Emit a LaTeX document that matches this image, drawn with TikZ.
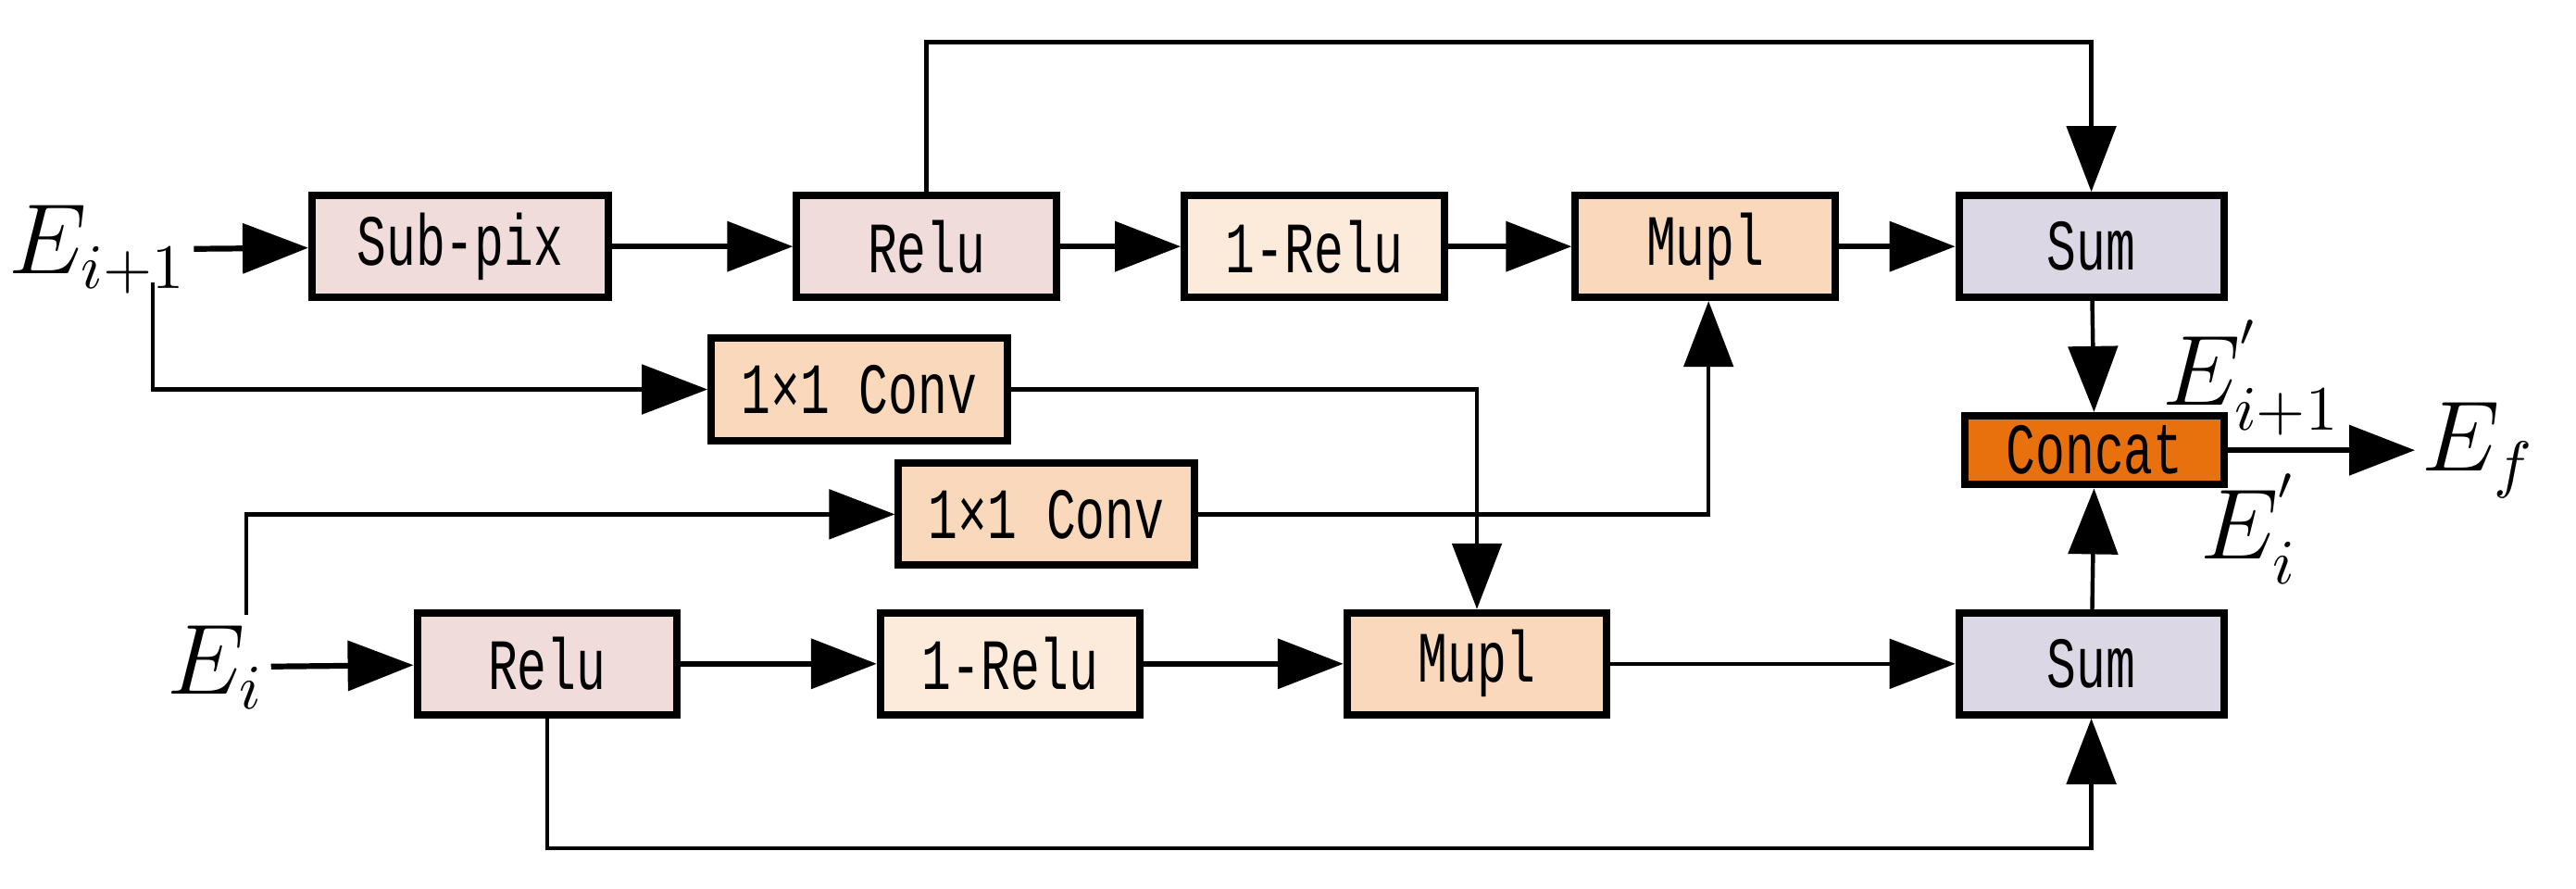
\documentclass[tikz,border=0pt]{standalone}
\usepackage{fontspec}
\setmainfont{Liberation Serif}
\newfontfamily\boxfont{Liberation Mono}
\usetikzlibrary{arrows.meta}
\definecolor{relupink}{RGB}{239,220,219}
\definecolor{lightpeach}{RGB}{252,234,219}
\definecolor{peach}{RGB}{249,216,187}
\definecolor{sumlav}{RGB}{220,215,229}
\definecolor{concatorange}{RGB}{232,113,14}
\newcommand{\boxtext}[1]{\scalebox{0.68}[1]{\boxfont\fontsize{12.5}{12.5}\selectfont #1}}

\begin{document}
\begin{tikzpicture}[x=0.01cm, y=-0.01cm]
		\tikzstyle{blk} = [rectangle, minimum width=1.58cm, minimum height=0.62cm, inner sep=0pt, draw=black, line width=0.45mm]
		\tikzstyle{arrow} = [-{Triangle[length=0.4cm,width=0.3cm]}, line width=0.35mm]
		\tikzstyle{branch} = [-{Triangle[length=0.4cm,width=0.3cm]}, line width=0.25mm]
		\tikzstyle{lbl} = [inner sep=1pt, font=\fontsize{16}{16}\selectfont]
		\useasboundingbox (0,0) rectangle (1568,541);
		%-------------------------------------------------------
		% upper path
		\node (ein1) [lbl, anchor=east] at (118,152) {$E_{i+1}$};
		\node (n1) [blk, fill=relupink, minimum width=1.8cm] at (280,150) {\boxtext{Sub-pix}};
		\node (n2) [blk, fill=relupink] at (564,150) {\boxtext{Relu}};
		\node (n3) [blk, fill=lightpeach] at (800,150) {\boxtext{1-Relu}};
		\node (n4) [blk, fill=peach] at (1038,150) {\boxtext{Mupl}};
		\node (n5) [blk, fill=sumlav, minimum width=1.61cm] at (1273,150) {\boxtext{Sum}};
		
		% convolutions
		\node (c1) [blk, fill=peach, minimum width=1.8cm] at (523,237) {\boxtext{1×1 Conv}};
		\node (c2) [blk, fill=peach, minimum width=1.8cm] at (637,313) {\boxtext{1×1 Conv}};
		
		% concat
		\node (cat) [blk, fill=concatorange, minimum width=1.58cm, minimum height=0.42cm] at (1275,274) {\boxtext{Concat}};
		\node (ef) [lbl, anchor=west] at (1470,274) {$E_f$};
		\node (l1) [lbl, anchor=west] at (1312,230) {$E^{'}_{i+1}$};
		\node (l2) [lbl, anchor=west] at (1335,322) {$E^{'}_{i}$};
		
		% lower path
		\node (ei) [lbl, anchor=east] at (165,406) {$E_i$};
		\node (m1) [blk, fill=relupink] at (333,404) {\boxtext{Relu}};
		\node (m2) [blk, fill=lightpeach] at (615,404) {\boxtext{1-Relu}};
		\node (m3) [blk, fill=peach] at (899,404) {\boxtext{Mupl}};
		\node (m4) [blk, fill=sumlav, minimum width=1.61cm] at (1273,404) {\boxtext{Sum}};
		
		\coordinate (b1) at (93,172);
		\coordinate (b2) at (150,374);
		
		\draw [arrow] (ein1) -- (n1);
		\draw [arrow] (n1) -- (n2);
		\draw [arrow] (n2) -- (n3);
		\draw [arrow] (n3) -- (n4);
		\draw [arrow] (n4) -- (n5);
		\draw [branch] (n2.north) -- ++(0,-91) -| (n5.north);
		\draw [branch] (n5) -- (cat);
		\draw [branch] (m4) -- (cat);
		\draw [arrow] (cat) -- (ef);
		
		\draw [branch] (b1) |- (c1);
		\draw [branch] (c1.east) -| (m3.north);
		\draw [branch] (b2) |- (c2);
		\draw [branch] (c2.east) -| ([xshift=0.02cm]n4.south);
		
		\draw [arrow] (ei) -- (m1);
		\draw [arrow] (m1) -- (m2);
		\draw [arrow] (m2) -- (m3);
		\draw [branch] (m3) -- (m4);
		\draw [branch] (m1.south) -- ++(0,79) -| (m4.south);
\end{tikzpicture}
\end{document}
